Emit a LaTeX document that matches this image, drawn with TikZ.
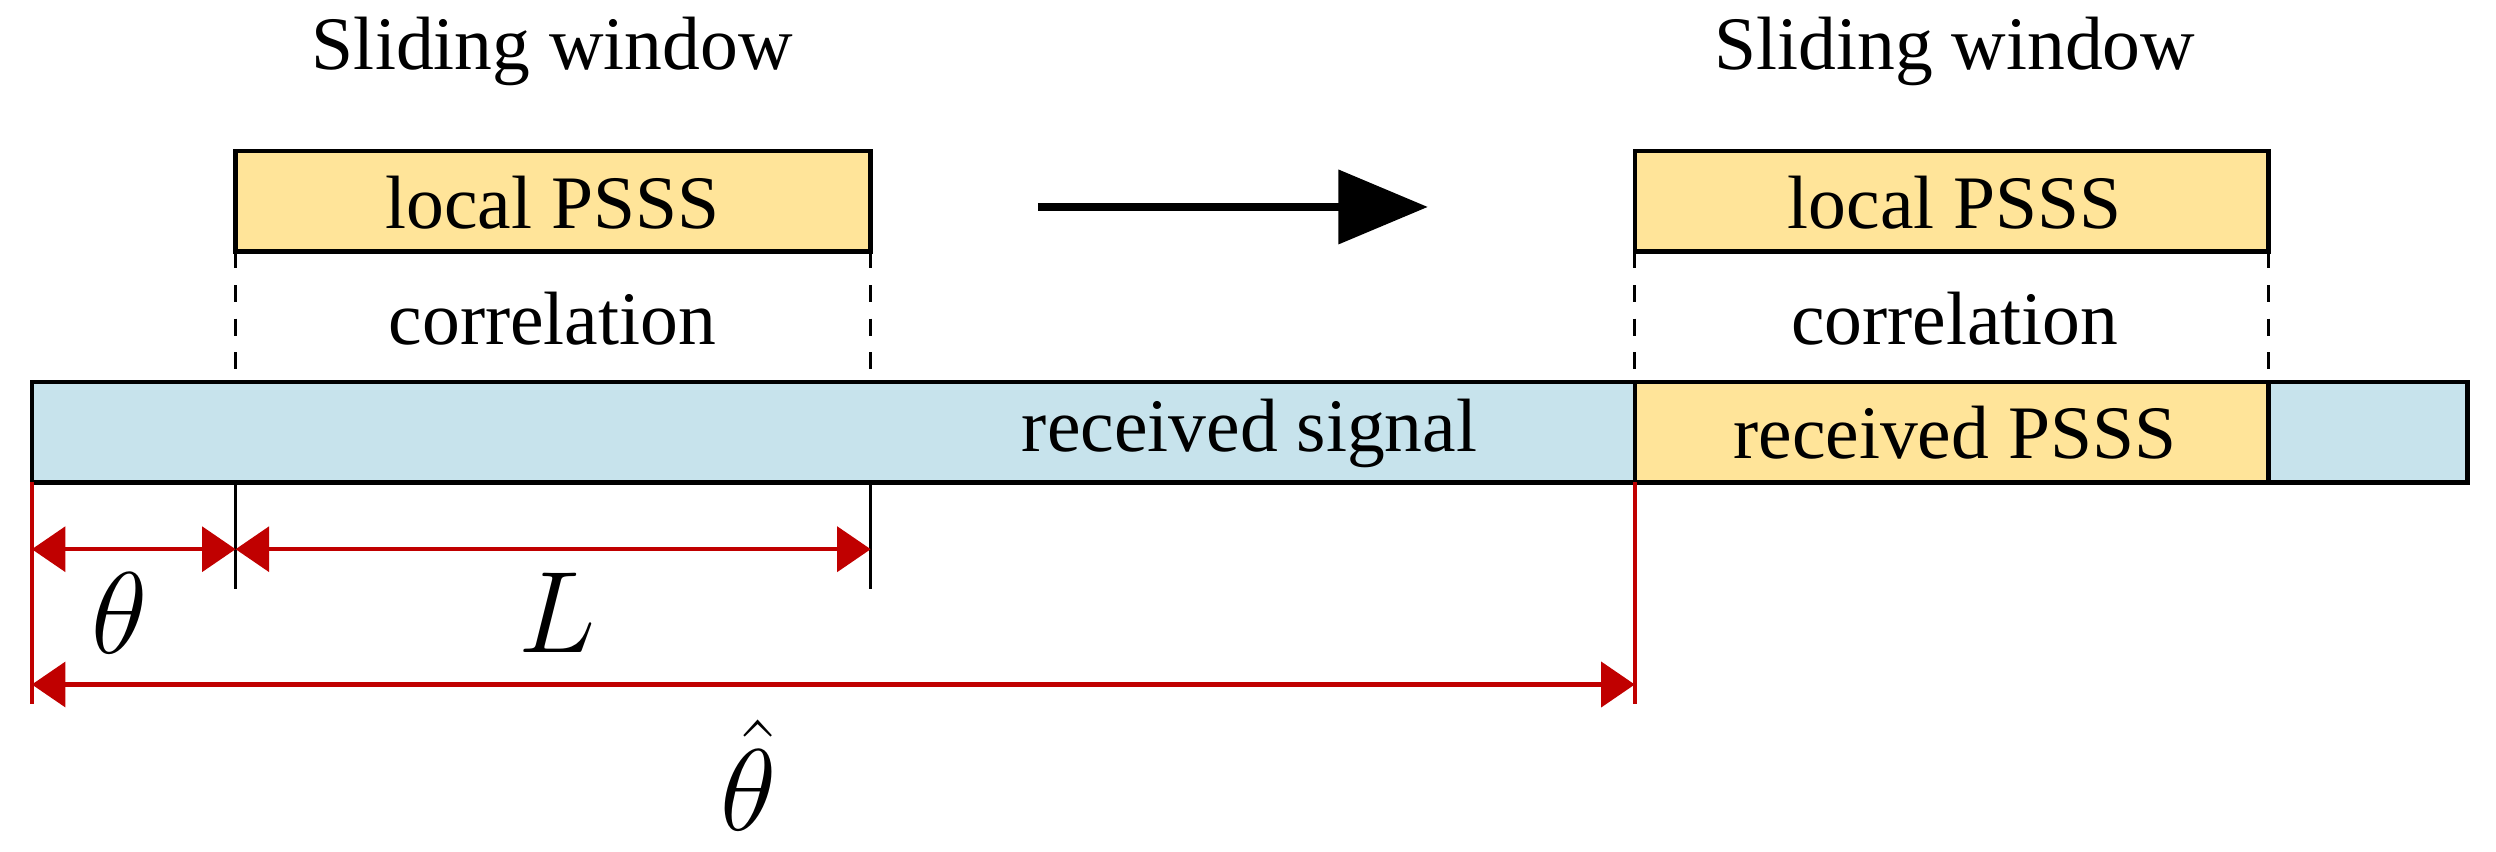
\documentclass[tikz,border=0pt]{standalone}
\usepackage{fontspec}
\setmainfont{Liberation Serif}
\usetikzlibrary{arrows.meta}
\definecolor{blu}{RGB}{199,227,236}
\definecolor{yel}{RGB}{255,228,153}
\definecolor{dred}{RGB}{192,0,0}
\begin{document}
\begin{tikzpicture}[x=0.01cm,y=-0.01cm,
 lab/.style={font=\fontsize{13.5}{16}\selectfont},
 box/.style={draw,line width=0.8pt},
 dim/.style={draw=dred,line width=0.8pt,{Triangle[length=6pt,width=8pt]}-{Triangle[length=6pt,width=8pt]}},
 dsh/.style={dashed,line width=0.6pt}]
\useasboundingbox (0,0) rectangle (1568,535);
\path[box,fill=blu] (20,240) rectangle (1550,303);
\path[box,fill=yel] (1027,240) rectangle (1425,303);
\path[box,fill=yel] (148,95) rectangle (547,158);
\path[box,fill=yel] (1027,95) rectangle (1425,158);
\node[lab] (sw1) at (347,32) {Sliding window};
\node[lab] (sw2) at (1228,32) {Sliding window};
\node[lab] (lp1) at (347,127) {local PSSS};
\node[lab] (lp2) at (1228,127) {local PSSS};
\node[lab] (c1) at (347,200) {correlation};
\node[lab] (c2) at (1228,200) {correlation};
\node[lab] (rs) at (785,272) {received signal};
\node[lab] (rp) at (1228,272) {received PSSS};
\foreach \x in {148,547,1027,1425} \draw[dsh] (\x,158) -- (\x,240);
\draw[line width=0.6pt] (148,303) -- (148,370);
\draw[line width=0.6pt] (547,303) -- (547,370);
\draw[dred,line width=0.8pt] (20,303) -- (20,442);
\draw[dred,line width=0.8pt] (1027,303) -- (1027,442);
\coordinate (a0) at (20,345); \coordinate (a1) at (148,345); \coordinate (a2) at (547,345);
\coordinate (b0) at (20,430); \coordinate (b1) at (1027,430);
\draw[dim] (a0) -- (a1);
\draw[dim] (a1) -- (a2);
\draw[dim] (b0) -- (b1);
\node[font=\fontsize{20}{22}\selectfont] (th) at (75,385) {$\theta$};
\node[font=\fontsize{20}{22}\selectfont] (L) at (350,385) {$L$};
\node[font=\fontsize{20}{22}\selectfont] (thh) at (470,487) {$\hat{\theta}$};
\coordinate (m0) at (652,130); \coordinate (m1) at (897,130);
\draw[line width=1.5pt,-{Triangle[length=16pt,width=13pt]}] (m0) -- (m1);
\end{tikzpicture}
\end{document}
